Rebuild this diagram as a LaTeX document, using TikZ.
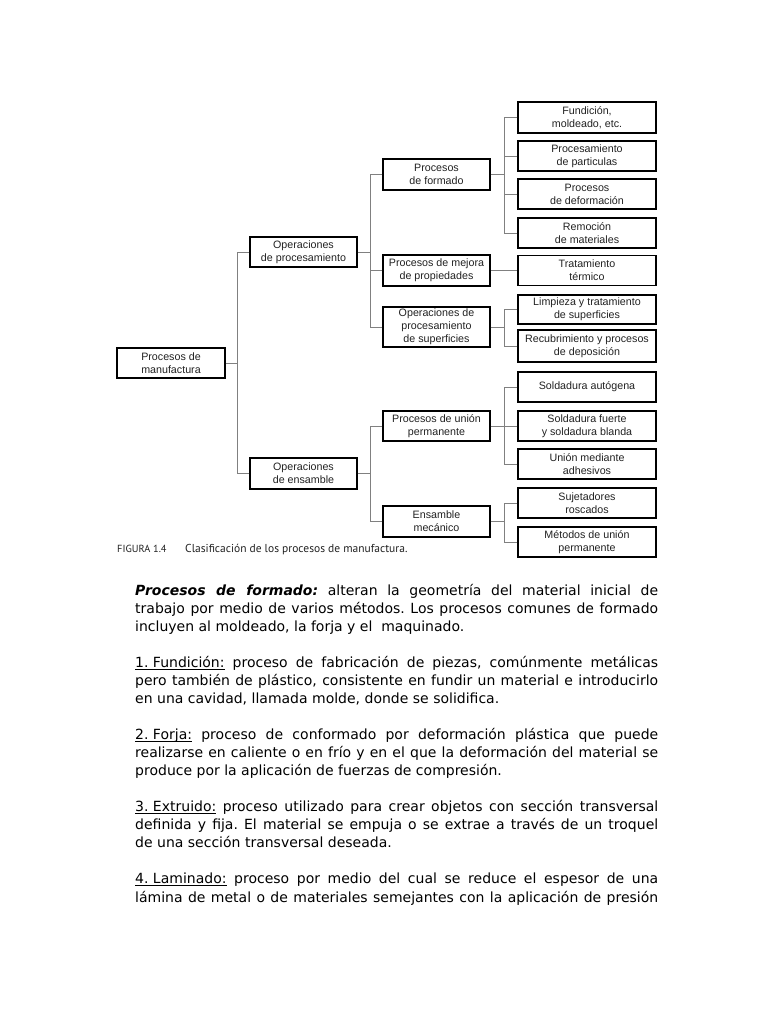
\documentclass[tikz,border=0pt]{standalone}
\usepackage{fontspec}
\setmainfont{DejaVu Sans}
\newfontfamily\boxfont{Liberation Sans}
\newfontfamily\capfont{PT Sans}
\definecolor{conncol}{HTML}{808080}
\definecolor{boxtext}{HTML}{222222}
\newcommand\myul[1]{\setbox0\hbox{#1}\rlap{\rule[-2.2pt]{\wd0}{0.8pt}}\box0\relax}
\newcommand\jline[3]{\node[anchor=base west, inner sep=0pt] (#1) at (135,#2) {\makebox[523pt][s]{#3}};}
\newcommand\pline[3]{\node[anchor=base west, inner sep=0pt] (#1) at (135,#2) {#3};}
\frenchspacing
\begin{document}
\begin{tikzpicture}[x=1pt,y=-1pt,
  box/.style={draw=black, line width=1.3pt, inner sep=0pt, align=center,
    font=\boxfont\fontsize{10.7}{13}\selectfont, text=boxtext},
  b1/.style={box, minimum width=108pt},
  b2/.style={box, minimum width=107pt},
  b4/.style={box, minimum width=138pt},
  conn/.style={draw=conncol, line width=0.9pt},
  body/.style={font=\frenchspacing\fontsize{14}{18}\selectfont}]
\useasboundingbox (0,0) rectangle (768,1024);
\fill[white] (0,0) rectangle (768,1024);

% level 1
\node[b1, minimum height=30pt] (manuf) at (171,363) {Procesos de\\manufactura};
% level 2
\node[b2, minimum height=30pt] (proc) at (303.5,252) {Operaciones\\de procesamiento};
\node[b2, minimum height=31pt] (ens) at (303.5,473.5) {Operaciones\\de ensamble};
% level 3
\node[b2, minimum height=31pt] (formado) at (436.5,174.5) {Procesos\\de formado};
\node[b2, minimum height=31pt] (mejora) at (436.5,270.5) {Procesos de mejora\\de propiedades};
\node[b2, minimum height=40pt] (superf) at (436.5,327) {Operaciones de\\procesamiento\\de superficies};
\node[b2, minimum height=30pt] (union) at (436.5,426) {Procesos de unión\\permanente};
\node[b2, minimum height=31pt] (mecanico) at (436.5,521.5) {Ensamble\\mecánico};
% level 4
\node[b4, minimum height=31pt] (fund) at (587,117.5) {Fundición,\\moldeado, etc.};
\node[b4, minimum height=30pt] (part) at (587,156) {Procesamiento\\de particulas};
\node[b4, minimum height=30pt] (deform) at (587,194) {Procesos\\de deformación};
\node[b4, minimum height=30pt] (remoc) at (587,233) {Remoción\\de materiales};
\node[b4, minimum height=30pt] (trat) at (587,270.5) {Tratamiento\\térmico};
\node[b4, minimum height=29pt] (limp) at (587,309.5) {Limpieza y tratamiento\\de superficies};
\node[b4, minimum height=32pt] (recub) at (587,346) {Recubrimiento y procesos\\de deposición};
\node[b4, minimum height=30pt] (autog) at (587,387) {Soldadura autógena};
\node[b4, minimum height=30pt] (fuerte) at (587,426) {Soldadura fuerte\\y soldadura blanda};
\node[b4, minimum height=30pt] (adhes) at (587,464) {Unión mediante\\adhesivos};
\node[b4, minimum height=30pt] (rosc) at (587,503) {Sujetadores\\roscados};
\node[b4, minimum height=30pt] (metod) at (587,542) {Métodos de unión\\permanente};

% junctions
\coordinate (j1) at (237,363);
\coordinate (j2) at (370,252);
\coordinate (j3) at (504,174.5);
\coordinate (j4) at (370,473.5);
\coordinate (j5) at (504,327);
\coordinate (j6) at (504,426);
\coordinate (j7) at (504,521.5);

\draw[conn] (manuf.east) -- (j1);
\draw[conn] (proc.west) -| (j1);
\draw[conn] (ens.west) -| (j1);

\draw[conn] (proc.east) -- (j2);
\draw[conn] (formado.west) -| (j2);
\draw[conn] (mejora.west) -| (j2);
\draw[conn] (superf.west) -| (j2);

\draw[conn] (ens.east) -- (j4);
\draw[conn] (union.west) -| (j4);
\draw[conn] (mecanico.west) -| (j4);

\draw[conn] (formado.east) -- (j3);
\draw[conn] (fund.west) -| (j3);
\draw[conn] (part.west) -| (j3);
\draw[conn] (deform.west) -| (j3);
\draw[conn] (remoc.west) -| (j3);

\draw[conn] (mejora.east) -- (trat.west);

\draw[conn] (superf.east) -- (j5);
\draw[conn] (limp.west) -| (j5);
\draw[conn] (recub.west) -| (j5);

\draw[conn] (union.east) -- (j6);
\draw[conn] (autog.west) -| (j6);
\draw[conn] (fuerte.west) -| (j6);
\draw[conn] (adhes.west) -| (j6);

\draw[conn] (mecanico.east) -- (j7);
\draw[conn] (rosc.west) -| (j7);
\draw[conn] (metod.west) -| (j7);

% caption
\node[anchor=base west, inner sep=0pt, font=\capfont\fontsize{11.5}{13}\selectfont, text=boxtext] (cap) at (117,552)
  {\makebox[68pt][l]{\fontsize{10.3}{12}\selectfont FIGURA 1.4}Clasificación de los procesos de manufactura.};

% body text
\begin{scope}[body]
\jline{t1}{595}{{\bfseries\itshape Procesos de formado:} alteran la geometría del material inicial de}
\jline{t2}{613.06}{trabajo por medio de varios métodos. Los procesos comunes de formado}
\pline{t3}{631.12}{incluyen al moldeado, la forja y el\ \ maquinado.}

\jline{t4}{667.24}{\myul{1. Fundición:} proceso de fabricación de piezas, comúnmente metálicas}
\jline{t5}{685.3}{pero también de plástico, consistente en fundir un material e introducirlo}
\pline{t6}{703.36}{en una cavidad, llamada molde, donde se solidifica.}

\jline{t7}{739.48}{\myul{2. Forja:} proceso de conformado por deformación plástica que puede}
\jline{t8}{757.54}{realizarse en caliente o en frío y en el que la deformación del material se}
\pline{t9}{775.6}{produce por la aplicación de fuerzas de compresión.}

\jline{t10}{811.72}{\myul{3. Extruido:} proceso utilizado para crear objetos con sección transversal}
\jline{t11}{829.78}{definida y fija. El material se empuja o se extrae a través de un troquel}
\pline{t12}{847.84}{de una sección transversal deseada.}

\jline{t13}{883.96}{\myul{4. Laminado:} proceso por medio del cual se reduce el espesor de una}
\jline{t14}{902.02}{lámina de metal o de materiales semejantes con la aplicación de presión}
\end{scope}
\end{tikzpicture}
\end{document}
